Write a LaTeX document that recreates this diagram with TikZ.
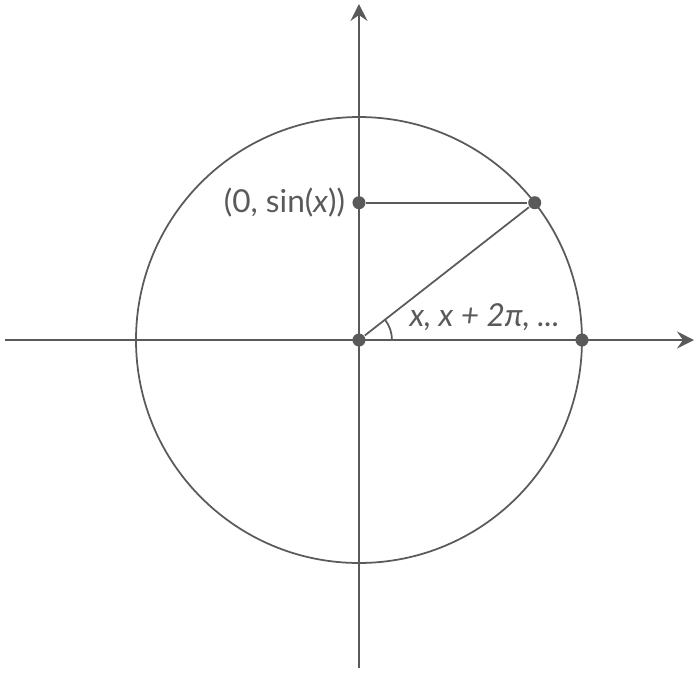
\documentclass[tikz,border=0pt]{standalone}
\usepackage{fontspec}
\setmainfont{Lato}
\usepackage{tikz}
\usetikzlibrary{arrows.meta, positioning, calc}
\definecolor{ink}{HTML}{5A5A5A}

\begin{document}
\begin{tikzpicture}[line width=0.5pt, draw=ink, text=ink,
    dot/.style={circle, fill=ink, inner sep=0pt, minimum size=0.13cm},
    axis/.style={-{Stealth[length=0.17cm, width=0.17cm, inset=0.06cm]}}]
\useasboundingbox (-3.59,-3.60) rectangle (3.41,3.40);
% Axes
\coordinate (xl) at (-3.54,0);
\coordinate (xr) at (3.35,0);
\coordinate (yb) at (0,-3.28);
\coordinate (yt) at (0,3.36);
\draw[ink, axis] (xl) -- (xr);
\draw[ink, axis] (yb) -- (yt);
% Unit circle
\draw[ink] (0,0) circle (2.23);
% Points
\node[dot] (O) at (0,0) {};
\node[dot] (P) at (38:2.23) {};
\node[dot] (S) at ($(0,0)!(P)!(0,1)$) {};
\node[dot] (E) at (2.23,0) {};
\draw[ink] (O) -- (P);
\draw[ink] (S) -- (P);
\draw[ink] (0.33,0) arc (0:38:0.33);
% Labels
\node[left=-0.06cm of S, font=\small] (sinlabel) {(0, sin(\textit{x}))};
\node[anchor=south west, font=\small\itshape] (anglabel) at (0.38,-0.03) {x, x + 2π, ...};
\end{tikzpicture}
\end{document}
